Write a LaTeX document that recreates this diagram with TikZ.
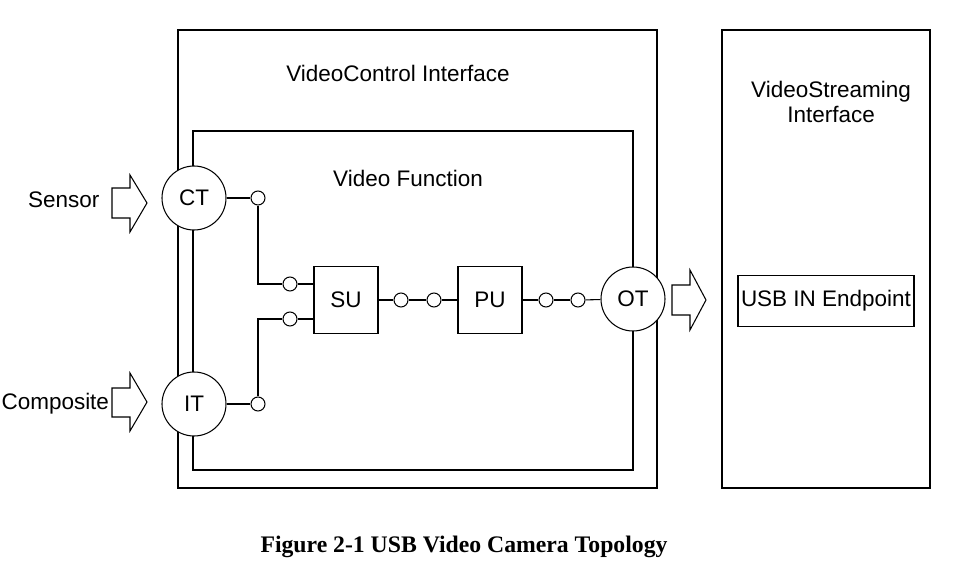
\documentclass[tikz,border=0pt]{standalone}
\usepackage{fontspec}
\setmainfont{Liberation Sans}
\newfontfamily\capfont{Liberation Serif}
\usetikzlibrary{positioning}
\tikzset{
  term/.style={draw,circle,minimum size=64\ul,inner sep=0pt,fill=white},
  unit/.style={draw,minimum width=64\ul,minimum height=67\ul,inner sep=0pt},
  pin/.style={draw,circle,minimum size=14\ul,inner sep=0pt,fill=white},
  lbl/.style={font=\fontsize{12.8}{14.5}\selectfont,align=center},
  blk/.style={draw,fill=white}
}
\newlength{\ul}\setlength{\ul}{0.02cm}
\begin{document}
\begin{tikzpicture}[x=0.02cm,y=-0.02cm,line width=0.6pt]
\useasboundingbox (0,0) rectangle (967,568);
% interfaces
\draw (178,30) rectangle (657,488);
\draw (722,30) rectangle (930,488);
\draw (193,131) rectangle (633,470);
\node[lbl] (vcTitle) at (398,73) {VideoControl Interface};
\node[lbl] (vsTitle) at (831,102) {VideoStreaming\\Interface};
\node[lbl] (vfTitle) at (408,178) {Video Function};
% terminals and units
\node[term,lbl] (CT) at (194,198) {CT};
\node[term,lbl] (IT) at (194,404) {IT};
\node[term,lbl] (OT) at (633,299) {OT};
\node[unit,lbl] (SU) at (346,300) {SU};
\node[unit,lbl] (PU) at (490,300) {PU};
\node[draw,lbl,inner sep=0pt,minimum width=176\ul,minimum height=51\ul] (EP) at (826,301) {USB IN Endpoint};
% pins
\node[pin] (ctOut) at (258,198) {};
\node[pin] (itOut) at (258,404) {};
\node[pin] (suInA) at (290,284) {};
\node[pin] (suInB) at (290,319) {};
\node[pin] (suOut) at (401,300) {};
\node[pin] (puIn) at (434,300) {};
\node[pin] (puOut) at (546,300) {};
\node[pin] (otIn) at (578,300) {};
% wiring
\draw (CT) -- (ctOut);
\draw (IT) -- (itOut);
\draw (ctOut) |- (suInA);
\draw (itOut) |- (suInB);
\draw (suInA) -- (suInA -| SU.west);
\draw (suInB) -- (suInB -| SU.west);
\draw (SU.east |- suOut) -- (suOut);
\draw (suOut) -- (puIn);
\draw (puIn) -- (puIn -| PU.west);
\draw (PU.east |- puOut) -- (puOut);
\draw (puOut) -- (otIn);
\draw (otIn) -- (OT);
% block arrows
\draw[blk] (112,188) -- (130,188) -- (130,175) -- (147,203) -- (130,232) -- (130,218) -- (112,218) -- cycle;
\draw[blk] (112,388) -- (130,388) -- (130,373) -- (147,402) -- (130,431) -- (130,417) -- (112,417) -- cycle;
\draw[blk] (672,285) -- (690,285) -- (690,270) -- (706,300) -- (690,330) -- (690,315) -- (672,315) -- cycle;
\node[lbl,inner sep=0pt,anchor=east] (sensor) at (100,200) {Sensor};
\node[lbl,inner sep=0pt,anchor=west] (composite) at (1,404) {Composite};
\node[font=\capfont\bfseries\fontsize{13.5}{15}\selectfont] (caption) at (464,547) {Figure 2-1 USB Video Camera Topology};
\end{tikzpicture}
\end{document}
